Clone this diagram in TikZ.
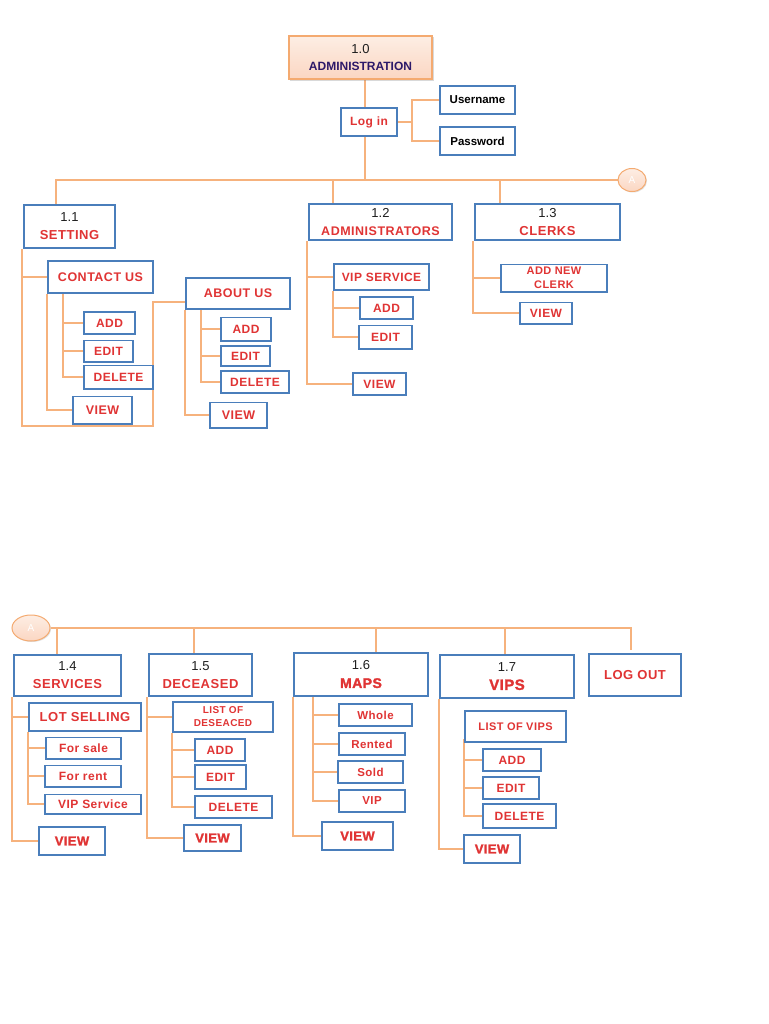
\documentclass[tikz,border=0pt]{standalone}
\usepackage{fontspec}
\setmainfont{Liberation Sans}
\newfontfamily\lsfont[LetterSpace=4]{Liberation Sans}
\newfontfamily\hvfont[LetterSpace=3,FakeBold=1.6]{Liberation Sans Bold}
\usetikzlibrary{shapes.geometric,calc,shadows}
\definecolor{boxblue}{RGB}{74,126,187}
\definecolor{labred}{RGB}{224,52,52}
\definecolor{lineor}{RGB}{246,178,125}
\definecolor{admtext}{RGB}{45,25,105}
\definecolor{peachtop}{RGB}{253,238,228}
\definecolor{peachbot}{RGB}{251,214,194}
\definecolor{peachline}{RGB}{244,170,112}
\definecolor{numgray}{RGB}{30,30,30}
\newcommand\fz[1]{\fontsize{#1}{#1}\selectfont}
\newcommand\hd[3]{{\normalfont\color{numgray}\fz{13}#1}\\[6pt]{\lsfont\bfseries\fz{#3}\textcolor{labred}{#2}}}
\newcommand\hdh[3]{{\normalfont\color{numgray}\fz{13}#1}\\[6pt]{\hvfont\fz{#3}\textcolor{labred}{#2}}}
\pgfdeclarelayer{bg}
\pgfsetlayers{bg,main}
\begin{document}
\begin{tikzpicture}[x=1pt,y=-1pt,
  box/.style={draw=boxblue, line width=1.8pt, fill=white, inner sep=0pt, align=center,
    text=labred, font=\lsfont\bfseries\fz{12}},
  heavy/.style={font=\hvfont\fz{13}},
  sz/.style 2 args={minimum width=#1pt-1.8pt, minimum height=#2pt-1.8pt},
  conn/.style={draw=lineor, line width=1.5pt},
  bubble/.style={ellipse, draw=peachline, line width=1pt, top color=peachtop, bottom color=peachbot,
    inner sep=0pt, text=white, font=\fz{10}, drop shadow={opacity=0.25, shadow xshift=1pt, shadow yshift=-1pt}}]
\useasboundingbox (0,0) rectangle (768,1024);

% ---------- top part ----------
\node[draw=peachline, line width=1.5pt, top color=peachtop, bottom color=peachbot, inner sep=0pt,
  align=center, drop shadow={opacity=0.3, shadow xshift=1.5pt, shadow yshift=-1.5pt},
  sz={145}{45}] (adm) at (360.5,57.5)
  {{\color{numgray}\fz{13}1.0}\\[5pt]{\bfseries\fz{12}\textcolor{admtext}{ADMINISTRATION}}};
\node[box, sz={58}{30}, font=\lsfont\bfseries\fz{12}] (login) at (369,122) {Log in};
\node[box, sz={77}{30}, text=black, font=\bfseries\fz{11.5}] (user) at (477.5,100) {Username};
\node[box, sz={77}{30}, text=black, font=\bfseries\fz{11.5}] (pass) at (477.5,141) {Password};
\node[bubble, minimum width=28pt, minimum height=23pt] (A1) at (632,180) {A};

\node[box, sz={93}{45}] (setting) at (69.5,226.5) {\hd{1.1}{SETTING}{13}};
\node[box, sz={145}{38}] (admins) at (380.5,222) {\hd{1.2}{ADMINISTRATORS}{12.5}};
\node[box, sz={147}{38}] (clerks) at (547.5,222) {\hd{1.3}{CLERKS}{13}};

\node[box, sz={107}{34}, font=\lsfont\bfseries\fz{12.5}] (contact) at (100.5,277) {CONTACT US};
\node[box, sz={53}{24}] (cadd) at (109.5,323) {ADD};
\node[box, sz={51}{23}] (cedit) at (108.5,351) {EDIT};
\node[box, sz={71}{25}] (cdel) at (118.5,377) {DELETE};
\node[box, sz={61}{29}, font=\lsfont\bfseries\fz{12.5}] (cview) at (102.5,410) {VIEW};

\node[box, sz={106}{33}, font=\lsfont\bfseries\fz{12.5}] (about) at (238,293.5) {ABOUT US};
\node[box, sz={52}{25}] (aadd) at (246,329) {ADD};
\node[box, sz={51}{22}] (aedit) at (245.5,356) {EDIT};
\node[box, sz={70}{24}] (adel) at (255,382) {DELETE};
\node[box, sz={59}{27}, font=\lsfont\bfseries\fz{12.5}] (aview) at (238.5,415) {VIEW};

\node[box, sz={97}{28}] (vipserv) at (381.5,277) {VIP SERVICE};
\node[box, sz={55}{24}] (vadd) at (386.5,308) {ADD};
\node[box, sz={55}{25}] (vedit) at (385.5,337) {EDIT};
\node[box, sz={55}{24}] (adview) at (379.5,384) {VIEW};

\node[box, sz={108}{29}, font=\lsfont\bfseries\fz{11}] (newclerk) at (554,278) {ADD NEW\\[3pt]CLERK};
\node[box, sz={54}{23}] (clview) at (546,313) {VIEW};

% top connectors
\begin{pgfonlayer}{bg}
\coordinate (sl) at ($(setting.south west)+(-1,0)$);
\coordinate (adl) at ($(admins.south west)+(-1,0)$);
\coordinate (cll) at ($(clerks.south west)+(-1,0)$);
\draw[conn] ([xshift=-4pt]login.north) -- ([xshift=-4pt]login.north |- adm.south);
\draw[conn] (login.east) -- ++(14,0) coordinate (lf);
\draw[conn] (user.west) -| (lf) |- (pass.west);
\draw[conn] ([xshift=-4pt]login.south) -- ++(0,42);
\draw[conn] ($(setting.north west)+(33,0)$) |- (A1.west);
\draw[conn] ($(admins.north west)+(25,0)$) -- ++(0,-24);
\draw[conn] ($(clerks.north west)+(26,0)$) -- ++(0,-24);
% setting
\draw[conn] (sl) |- (contact.west);
\draw[conn] (sl) -- ++(0,177) -| ($(about.west)+(-32,8.5)$) -- ($(about.west)+(0,8.5)$);
\draw[conn] (contact.south west) |- (cview.west);
\draw[conn] ($(contact.south west)+(16,0)$) coordinate (ci) |- (cdel.west);
\draw[conn] (ci |- cadd.west) -- (cadd.west);
\draw[conn] (ci |- cedit.west) -- (cedit.west);
\draw[conn] (about.south west) |- (aview.west);
\draw[conn] ($(about.south west)+(16,0)$) coordinate (ai) |- (adel.west);
\draw[conn] (ai |- aadd.west) -- (aadd.west);
\draw[conn] (ai |- aedit.west) -- (aedit.west);
% administrators
\draw[conn] (adl) |- (adview.west);
\draw[conn] (adl |- vipserv.west) -- (vipserv.west);
\draw[conn] (vipserv.south west) |- (vedit.west);
\draw[conn] (vipserv.south west |- vadd.west) -- (vadd.west);
% clerks
\draw[conn] (cll) |- (clview.west);
\draw[conn] (cll |- newclerk.west) -- (newclerk.west);
\end{pgfonlayer}

% ---------- bottom part ----------
\node[bubble, minimum width=38pt, minimum height=26pt] (A2) at (31,628) {A};

\node[box, sz={109}{43}] (services) at (67.5,675.5) {\hd{1.4}{SERVICES}{13}};
\node[box, sz={105}{44}] (deceased) at (200.5,675) {\hd{1.5}{DECEASED}{13}};
\node[box, sz={136}{45}] (maps) at (361,674.5) {\hdh{1.6}{MAPS}{14}};
\node[box, sz={136}{45}] (vips) at (507,676.5) {\hdh{1.7}{VIPS}{15}};
\node[box, sz={94}{44}, font=\lsfont\bfseries\fz{13}] (logout) at (635,675) {LOG OUT};

\node[box, sz={114}{30}, font=\lsfont\bfseries\fz{13}] (lot) at (85,717) {LOT SELLING};
\node[box, sz={77}{23}, font=\lsfont\bfseries\fz{12}] (forsale) at (83.5,748) {For sale};
\node[box, sz={78}{23}, font=\lsfont\bfseries\fz{12}] (forrent) at (83,776) {For rent};
\node[box, sz={98}{21}, font=\lsfont\bfseries\fz{12}] (vipsvc) at (93,804) {VIP Service};
\node[box, sz={68}{30}, heavy] (sview) at (72,841) {VIEW};

\node[box, sz={102}{32}, font=\lsfont\bfseries\fz{10}] (list) at (223,717) {LIST OF\\[3pt]DESEACED};
\node[box, sz={52}{24}] (dadd) at (220,750) {ADD};
\node[box, sz={53}{26}] (dedit) at (220.5,777) {EDIT};
\node[box, sz={79}{24}] (ddel) at (233.5,807) {DELETE};
\node[box, sz={59}{28}, heavy] (dview) at (212.5,838) {VIEW};

\node[box, sz={75}{24}, font=\lsfont\bfseries\fz{11.5}] (whole) at (375.5,715) {Whole};
\node[box, sz={68}{24}, font=\lsfont\bfseries\fz{11.5}] (rented) at (372,744) {Rented};
\node[box, sz={67}{24}, font=\lsfont\bfseries\fz{11.5}] (sold) at (370.5,772) {Sold};
\node[box, sz={68}{24}, font=\lsfont\bfseries\fz{11.5}] (mvip) at (372,801) {VIP};
\node[box, sz={73}{30}, heavy] (mview) at (357.5,836) {VIEW};

\node[box, sz={103}{33}, font=\lsfont\bfseries\fz{11}] (listvips) at (515.5,726.5) {LIST OF VIPS};
\node[box, sz={60}{24}] (vpadd) at (512,760) {ADD};
\node[box, sz={58}{24}] (vpedit) at (511,788) {EDIT};
\node[box, sz={75}{26}] (vpdel) at (519.5,816) {DELETE};
\node[box, sz={58}{30}, heavy] (vview) at (492,849) {VIEW};

\begin{pgfonlayer}{bg}
\coordinate (svl) at ($(services.south west)+(-1,0)$);
\coordinate (dcl) at ($(deceased.south west)+(-1,0)$);
\draw[conn] (A2.east) -| ($(logout.north)+(-4,-3)$);
\draw[conn] ($(services.north west)+(44,0)$) -- ++(0,-26);
\draw[conn] ($(deceased.north west)+(46,0)$) -- ++(0,-25);
\draw[conn] ($(maps.north west)+(83,0)$) -- ++(0,-24);
\draw[conn] ($(vips.north west)+(66,0)$) -- ++(0,-26);
% services
\draw[conn] (svl) |- (sview.west);
\draw[conn] (svl |- lot.west) -- (lot.west);
\draw[conn] (lot.south west) |- (vipsvc.west);
\draw[conn] (lot.south west |- forsale.west) -- (forsale.west);
\draw[conn] (lot.south west |- forrent.west) -- (forrent.west);
% deceased
\draw[conn] (dcl) |- (dview.west);
\draw[conn] (dcl |- list.west) -- (list.west);
\draw[conn] (list.south west) |- (ddel.west);
\draw[conn] (list.south west |- dadd.west) -- (dadd.west);
\draw[conn] (list.south west |- dedit.west) -- (dedit.west);
% maps
\draw[conn] (maps.south west) |- (mview.west);
\draw[conn] ($(maps.south west)+(20,0)$) coordinate (mi) |- (mvip.west);
\draw[conn] (mi |- whole.west) -- (whole.west);
\draw[conn] (mi |- rented.west) -- (rented.west);
\draw[conn] (mi |- sold.west) -- (sold.west);
% vips
\draw[conn] (vips.south west) |- (vview.west);
\draw[conn] ($(listvips.south west)+(0,-4)$) coordinate (vi) |- (vpdel.west);
\draw[conn] (vi |- vpadd.west) -- (vpadd.west);
\draw[conn] (vi |- vpedit.west) -- (vpedit.west);
\end{pgfonlayer}
\end{tikzpicture}
\end{document}
